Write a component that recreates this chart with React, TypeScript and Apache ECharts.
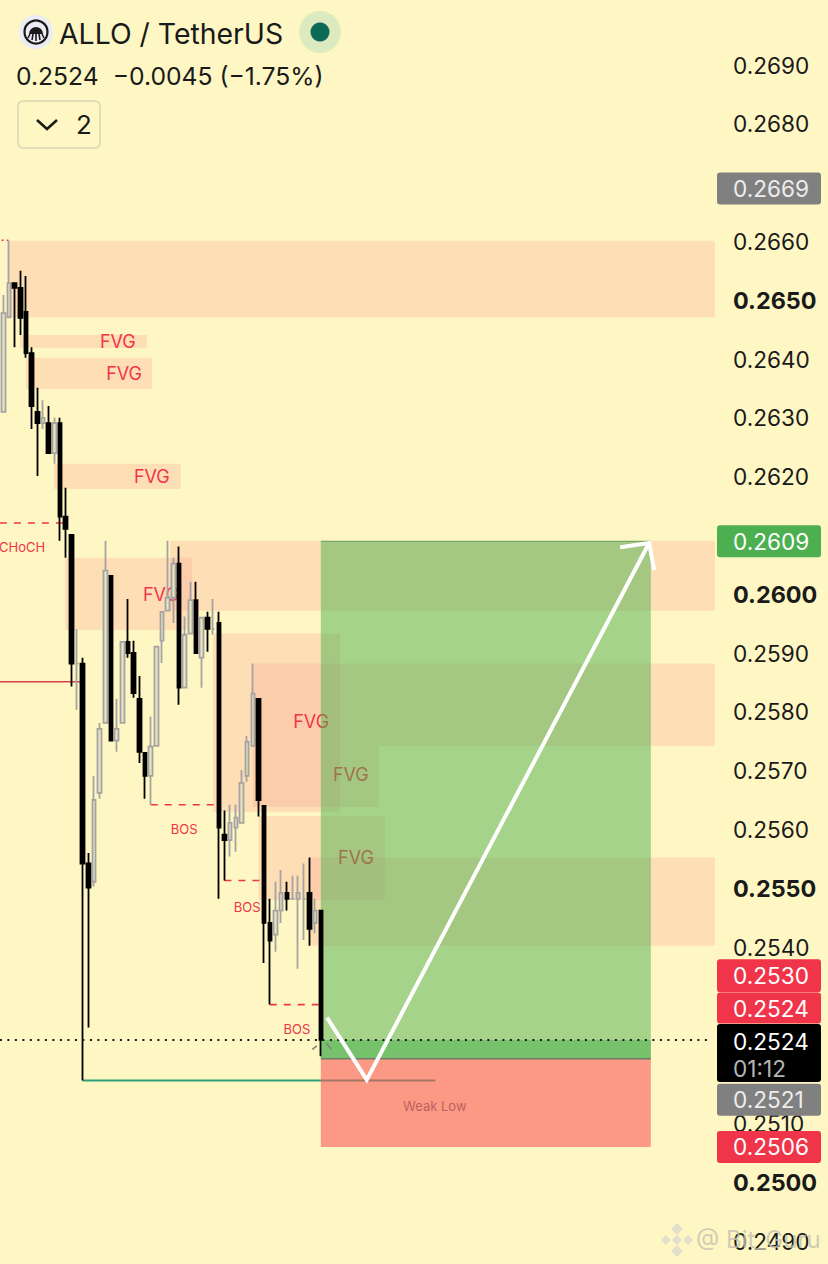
import React, { useEffect, useRef } from "react";
import * as echarts from "echarts";

const FONT = "Inter";
const BG = "#FEF7C3";
const RED = "#F0354A";

// bar index, open, close, low, high
const openPrices = [.26310,.26471,.26529,.26521,.26480,.26410,.26310,.26291,.26291,.26240,.26291,.26132,.26101,.25882,.25882,.25542,.25511,.25662,.25781,.26031,.25751,.25781,.25919,.25900,.25822,.25730,.25691,.25742,.25921,.25972,.25994,.26052,.25841,.25933,.25990,.25892,.25960,.25941,.25951,.25591,.25582,.25603,.25611,.25691,.25742,.25822,.25640,.25441,.25421,.25462,.25492,.25482,.25482,.25482,.25492,.25441,.25462];
const closePrices = [.26478,.26529,.26521,.26470,.26410,.26320,.26291,.26300,.26240,.26291,.26132,.26111,.25882,.25882,.25542,.25501,.25650,.25771,.26040,.25751,.25771,.25919,.25900,.25832,.25732,.25691,.25741,.25911,.25970,.25994,.26052,.25841,.25931,.25990,.25900,.25960,.25941,.25941,.25603,.25582,.25611,.25620,.25679,.25749,.25831,.25650,.25441,.25411,.25462,.25492,.25482,.25482,.25492,.25482,.25431,.25462,.25242];
const lowPrices = [.26310,.26471,.26420,.26441,.26402,.26281,.26201,.26281,.26240,.26222,.26091,.26062,.25843,.25803,.25173,.25263,.25503,.25652,.25781,.25751,.25732,.25781,.25892,.25824,.25713,.25652,.25642,.25742,.25883,.25972,.25951,.25812,.25841,.25933,.25900,.25841,.25902,.25931,.25482,.25513,.25554,.25562,.25611,.25681,.25742,.25622,.25373,.25302,.25392,.25441,.25462,.25482,.25363,.25412,.25402,.25423,.25214];
const highPrices = [.26509,.26602,.26529,.26550,.26541,.26420,.26351,.26330,.26320,.26300,.26300,.26181,.26101,.25941,.25892,.25560,.25691,.25781,.26091,.26031,.25822,.25919,.25992,.25921,.25861,.25730,.25792,.25911,.25970,.26091,.26062,.26081,.25962,.26021,.26021,.25960,.25970,.25992,.25970,.25632,.25642,.25642,.25701,.25759,.25882,.25822,.25640,.25482,.25511,.25531,.25511,.25521,.25521,.25542,.25552,.25482,.25462];

// x0, x1 (bar index), top price, bottom price
const fvgZones = [
  [1.0, 125.5, .26601, .26471],
  [2.95, 25.3, .26441, .26419],
  [4.0, 26.2, .26402, .26349],
  [8.94, 31.3, .26222, .26179],
  [10.9, 33.3, .26062, .25939],
  [29.4, 125.5, .26091, .25972],
  [37, 59.4, .25933, .2563],
  [44, 125.5, .25882, .25742],
  [44, 66.2, .25742, .25638],
  [45, 67.3, .25623, .2548],
  [54, 125.5, .25552, .25402],
];
const profitZone = [[56, 114.2, .2609, .2521]];
const stopZone = [[56, 114.2, .2521, .2506]];
const openProfitZone = [[56, 114.2, .25242, .2521]];

// label, bar index, price
const fvgLabels = [
  ["FVG", 20.2, .26429], ["FVG", 21.3, .26375], ["FVG", 26.2, .262], ["FVG", 27.8, .26],
  ["FVG", 54.3, .25783], ["FVG", 61.3, .25693], ["FVG", 62.2, .25552],
];
const smallLabels = [
  ["BOS", 31.9, .25601], ["BOS", 43, .25468], ["BOS", 51.8, .25261], ["CHoCH", 3.3, .2608],
];
const weakLowLabel = [["Weak Low", 76.1, .2513]];

// x0, x1, price
const dashedLevels = [
  [-0.6, 10.7, .26121], [26, 37.8, .25642], [39, 46.3, .25513], [47, 55.9, .25302],
];
const topDottedLevel = [[-0.3, .26602], [0.9, .26602]];
const choppedLevel = [[-0.6, .25851], [13.5, .25851]];
const weakLowLine = [[14, .25173], [76.2, .25173]];
const lastPriceLine = [[-0.6, .25242], [124.6, .25242]];
const entryLine = [[56, .2521], [114.2, .2521]];
const targetLine = [[56, .2609], [114.2, .2609]];
const arrowPath = [[57.1, .2528], [64.1, .25174], [113.9, .26087]];
const arrowHead = [[108.8, .2608], [113.9, .26087], [114.8, .26041]];
const tickMarkA = [[55.3, .25232], [54.5, .25226]];
const tickMarkB = [[56.9, .25237], [57.8, .25226]];

const boldTicks = ["0.2650", "0.2600", "0.2550", "0.2500"];

// text, price, colour, dy from the price, height
const priceTags = [
  ["0.2669", .2669, "#808080", 0, 32],
  ["0.2609", .2609, "#4CAF50", 0, 32],
  ["0.2530", .2530, RED, -30, 33],
  ["0.2524", .2524, RED, -33, 31],
  ["0.2521", .2521, "#808080", 41, 32],
  ["0.2506", .2506, RED, 0, 32],
];
const lastTag = ["0.2524", "01:12"];

const header = {
  title: "ALLO / TetherUS",
  quote: "0.2524  −0.0045 (−1.75%)",
  count: "2",
  watermark: "@ Bit_Guru",
};

const segLine = (data: number[][], color: string, width: number, z: number, type: any = "solid") => ({
  type: "line", data, z, silent: true, symbol: "none", showSymbol: false, animation: false, clip: false,
  lineStyle: { color, width, type, cap: "butt", join: "miter" },
});

const zoneSeries = (data: number[][], color: string, z: number) => ({
  type: "custom", data, z, silent: true, clip: false,
  encode: { x: [0, 1], y: [2, 3] },
  renderItem: (_: any, api: any) => {
    const a = api.coord([api.value(0), api.value(2)]);
    const b = api.coord([api.value(1), api.value(3)]);
    return { type: "rect", shape: { x: a[0], y: a[1], width: b[0] - a[0], height: b[1] - a[1] }, style: { fill: color } };
  },
});

const textSeries = (data: any[][], color: string, size: number, z: number) => ({
  type: "custom", data: data.map((d) => [d[1], d[2], d[0]]), z, silent: true, clip: false,
  encode: { x: 0, y: 1 },
  renderItem: (p: any, api: any) => {
    const c = api.coord([api.value(0), api.value(1)]);
    return {
      type: "text",
      style: { text: data[p.dataIndex][0], x: c[0], y: c[1], fill: color, font: `${size}px ${FONT}`, textAlign: "center", textVerticalAlign: "middle" },
    };
  },
});

const tagText = (text: string, y: number, fill: string) => ({
  type: "text",
  style: { text, x: 733, y, fill, font: `22.6px ${FONT}`, textAlign: "left", textVerticalAlign: "middle" },
});

const tagSeries = {
  type: "custom", data: priceTags.map((t) => [0, t[1]]), z: 30, silent: true, clip: false,
  encode: { x: 0, y: 1 },
  renderItem: (p: any, api: any) => {
    const t: any = priceTags[p.dataIndex];
    const cy = api.coord([0, api.value(1)])[1] + t[3];
    return {
      type: "group",
      children: [
        { type: "rect", shape: { x: 717, y: cy - t[4] / 2, width: 104, height: t[4], r: 3 }, style: { fill: t[2] } },
        tagText(t[0], cy, t[2] === "#808080" ? "#EDEDED" : "#FFFFFF"),
      ],
    };
  },
};

const lastTagSeries = {
  type: "custom", data: [[0, .2524]], z: 31, silent: true, clip: false,
  encode: { x: 0, y: 1 },
  renderItem: (_: any, api: any) => {
    const cy = api.coord([0, api.value(1)])[1];
    return {
      type: "group",
      children: [
        { type: "rect", shape: { x: 717, y: cy - 17, width: 104, height: 58, r: 3 }, style: { fill: "#000000" } },
        tagText(lastTag[0], cy, "#FFFFFF"),
        tagText(lastTag[1], cy + 27, "#B5B5B5"),
      ],
    };
  },
};

const diamond = (cx: number, cy: number, r: number, fill: string) => ({
  type: "polygon", z: 40, shape: { points: [[cx, cy - r], [cx + r, cy], [cx, cy + r], [cx - r, cy]] }, style: { fill },
});

const leg = (x1: number, y1: number, x2: number, y2: number) => ({
  type: "line", z: 40, shape: { x1, y1, x2, y2 }, style: { stroke: "#1A1A1A", lineWidth: 1.6 },
});

const headerGraphics = [
  { type: "circle", z: 40, shape: { cx: 36, cy: 32, r: 17 }, style: { fill: "#ECEDF4" } },
  { type: "circle", z: 40, shape: { cx: 36, cy: 32, r: 11.5 }, style: { fill: "none", stroke: "#1A1A1A", lineWidth: 2.2 } },
  { type: "sector", z: 40, shape: { cx: 36, cy: 34, r0: 0, r: 7, startAngle: Math.PI, endAngle: Math.PI * 2 }, style: { fill: "#1A1A1A" } },
  leg(30, 34, 28, 38), leg(33, 34, 32, 40), leg(36, 34, 36, 41), leg(39, 34, 40, 40), leg(42, 34, 44, 38),
  { type: "text", z: 40, style: { text: header.title, x: 59, y: 33, fill: "#1A1A1A", font: `28.4px ${FONT}`, textVerticalAlign: "middle" } },
  { type: "circle", z: 40, shape: { cx: 320, cy: 32, r: 21 }, style: { fill: "#DDE9BE" } },
  { type: "circle", z: 40, shape: { cx: 320, cy: 32, r: 9.5 }, style: { fill: "#0A6A55" } },
  { type: "text", z: 40, style: { text: header.quote, x: 16, y: 76, fill: "#1A1A1A", font: `24.7px ${FONT}`, textVerticalAlign: "middle" } },
  { type: "rect", z: 40, shape: { x: 18, y: 101, width: 82, height: 47, r: 5 }, style: { fill: "none", stroke: "#D9D5B4", lineWidth: 1.5 } },
  { type: "polyline", z: 40, shape: { points: [[37, 120], [47, 129], [57, 120]] }, style: { fill: "none", stroke: "#1A1A1A", lineWidth: 2.6 } },
  { type: "text", z: 40, style: { text: header.count, x: 76, y: 124, fill: "#1A1A1A", font: `26px ${FONT}`, textVerticalAlign: "middle" } },
  diamond(677, 1229, 6, "#E3E0CA"), diamond(677, 1251, 6, "#E3E0CA"), diamond(666, 1240, 5, "#E3E0CA"),
  diamond(688, 1240, 5, "#E3E0CA"), diamond(677, 1240, 5, "#E3E0CA"),
  { type: "text", z: 40, style: { text: header.watermark, x: 696, y: 1239, fill: "rgba(196,194,176,0.8)", font: `24px ${FONT}`, textVerticalAlign: "middle" } },
];

export default function App() {
  const ref = useRef<HTMLDivElement>(null);
  useEffect(() => {
    const chart = echarts.init(ref.current!, undefined, { renderer: "svg" });
    chart.setOption({
      animation: false,
      backgroundColor: BG,
      grid: { left: 0, right: 0, top: 65, height: 1176, containLabel: false },
      xAxis: { type: "value", min: -0.582, max: 145.45, show: false },
      yAxis: {
        type: "value", position: "right", min: 0.249, max: 0.269, interval: 0.001,
        axisLine: { show: false }, axisTick: { show: false }, splitLine: { show: false },
        axisLabel: {
          inside: true, margin: 95, align: "left", color: "#1A1A1A", fontFamily: FONT, fontSize: 22.6,
          formatter: (v: number) => {
            const s = v.toFixed(4);
            return boldTicks.includes(s) ? `{b|${s}}` : s;
          },
          rich: { b: { fontFamily: FONT, fontSize: 23.4, fontWeight: 700, color: "#1A1A1A" } },
        },
      },
      graphic: { elements: headerGraphics },
      series: [
        zoneSeries(fvgZones, "rgba(252,167,150,0.3)", 1),
        textSeries(fvgLabels, RED, 18, 2),
        segLine(weakLowLine, "#2F9E78", 2, 3),
        textSeries(weakLowLabel, "#5E6A70", 13, 3),
        zoneSeries(profitZone, "rgba(76,175,80,0.5)", 4),
        zoneSeries(openProfitZone, "rgba(76,175,80,0.5)", 4),
        zoneSeries(stopZone, "rgba(248,90,90,0.6)", 4),
        segLine(targetLine, "rgba(60,140,70,0.7)", 1, 4),
        segLine(entryLine, "#6E7A68", 1.5, 4),
        ...dashedLevels.map((d) => segLine([[d[0], d[2]], [d[1], d[2]]], RED, 1.6, 5, [7, 7])),
        segLine(topDottedLevel, RED, 1.6, 5, [2, 3]),
        segLine(choppedLevel, "#D5404F", 1.5, 5),
        textSeries(smallLabels, RED, 13, 5),
        {
          type: "candlestick", z: 6, silent: true, barWidth: 4, clip: false,
          data: openPrices.map((o, i) => [i, o, closePrices[i], lowPrices[i], highPrices[i]]),
          itemStyle: {
            color: "#E9E5C0", color0: "#000000", borderColor: "#A3A3A3", borderColor0: "#000000",
            borderColorDoji: "#A3A3A3", borderWidth: 1.8,
          },
        },
        segLine(lastPriceLine, "#1A1A1A", 2, 7, [2, 5.5]),
        segLine(tickMarkA, "#808080", 1.5, 7),
        segLine(tickMarkB, "#808080", 1.5, 7),
        segLine(arrowPath, "#FFFFFF", 4, 8),
        segLine(arrowHead, "#FFFFFF", 4, 8),
        tagSeries,
        lastTagSeries,
      ],
    });
    return () => chart.dispose();
  }, []);
  return <div ref={ref} style={{ position: "absolute", left: 0, top: 0, width: 828, height: 1264 }} />;
}
